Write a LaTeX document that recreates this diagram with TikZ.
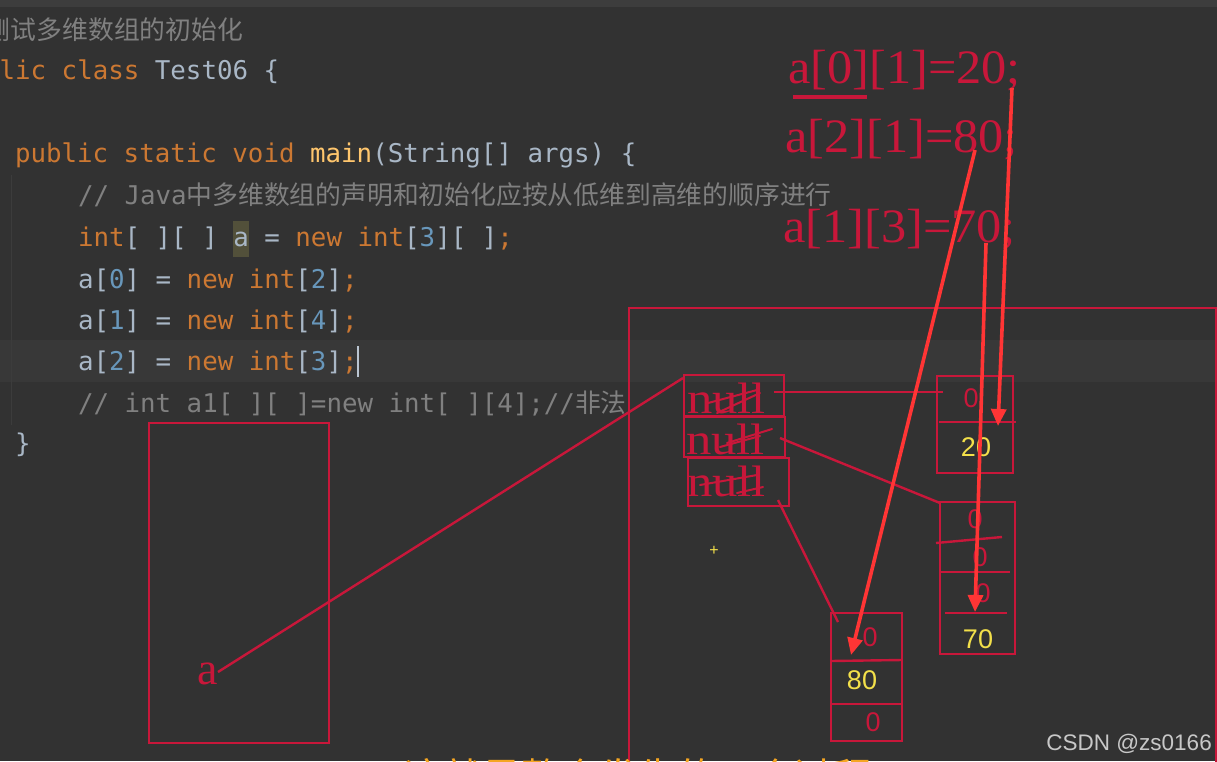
\documentclass[tikz,border=0pt]{standalone}
\usepackage{fontspec}
\usepackage{graphicx}
\setmainfont{Liberation Serif}
\newfontfamily\codefont{DejaVu Sans Mono}
\newfontfamily\cjkfont{Noto Sans CJK SC}
\newfontfamily\sansf{Liberation Sans}
\usetikzlibrary{arrows.meta}
\definecolor{bg}{HTML}{323232}
\definecolor{topbar}{HTML}{3D3D3D}
\definecolor{curline}{HTML}{383838}
\definecolor{guide}{HTML}{3C3C3C}
\definecolor{kw}{HTML}{CC7832}
\definecolor{tx}{HTML}{A9B7C6}
\definecolor{num}{HTML}{6897BB}
\definecolor{cm}{HTML}{808080}
\definecolor{fn}{HTML}{FFC66D}
\definecolor{hlbg}{HTML}{52503A}
\definecolor{pen}{HTML}{C8173A}
\definecolor{arr}{HTML}{FF3535}
\definecolor{hl}{HTML}{F3E04A}
\definecolor{wm}{HTML}{C8C8C8}
\definecolor{sub}{HTML}{F5A623}
\newcommand\kwc[1]{\textcolor{kw}{#1}}
\newcommand\numc[1]{\textcolor{num}{#1}}
\newcommand\fnc[1]{\textcolor{fn}{#1}}
\tikzset{
  code/.style={anchor=base west, inner sep=0pt, outer sep=0pt, text=tx,
    font=\codefont\fontsize{25.8}{30}\selectfont},
  penline/.style={draw=pen, line width=2.4pt},
  scrib/.style={draw=pen, line width=2pt, line cap=round},
  formula/.style={anchor=base west, inner sep=0pt, text=pen, font=\fontsize{48}{50}\selectfont},
  nulltext/.style={anchor=base west, inner sep=0pt, text=pen, font=\fontsize{44}{46}\selectfont},
  cellbox/.style={draw=pen, line width=2.4pt, inner sep=0pt, anchor=north west},
  redarrow/.style={draw=arr, line width=3.6pt, -{Triangle[length=17pt,width=15pt]}},
  val/.style={text=pen, font=\sansf\fontsize{27}{28}\selectfont, inner sep=0pt},
  yval/.style={text=hl, font=\sansf\fontsize{27}{28}\selectfont, inner sep=0pt},
}
\begin{document}
\begin{tikzpicture}[x=1pt,y=-1pt]
\useasboundingbox (0,0) rectangle (1217,761);
\begin{scope}
\clip (0,0) rectangle (1217,761);
% background
\fill[bg] (0,0) rectangle (1217,761);
\fill[topbar] (0,0) rectangle (1217,7);
\fill[curline] (0,340) rectangle (1217,382);
\draw[guide, line width=1pt] (11,175) -- (11,425);
\fill[hlbg] (233,221) rectangle (249,257);
\draw[tx!80, line width=1.2pt] (358,346) -- (358,377);

% code
\node[code, text=cm, font=\cjkfont\fontsize{25.8}{30}\selectfont] (l1) at (-15,39) {测试多维数组的初始化};
\node[code] (l2) at (-47,79) {\kwc{public class }Test06 \{};
\node[code] (l3) at (15,162) {\kwc{public static void }\fnc{main}(String[] args) \{};
\node[code, text=cm] (l4) at (78,204) {// Java{\cjkfont 中多维数组的声明和初始化应按从低维到高维的顺序进行}};
\node[code] (l5) at (78,246) {\kwc{int}[ ][ ] a = \kwc{new int}[\numc{3}][ ]\kwc{;}};
\node[code] (l6) at (78,288) {a[\numc{0}] = \kwc{new int}[\numc{2}]\kwc{;}};
\node[code] (l7) at (78,329) {a[\numc{1}] = \kwc{new int}[\numc{4}]\kwc{;}};
\node[code] (l8) at (78,370) {a[\numc{2}] = \kwc{new int}[\numc{3}]\kwc{;}};
\node[code, text=cm] (l9) at (78,412) {// int a1[ ][ ]=new int[ ][4];//{\cjkfont 非法}};
\node[code] (l10) at (15,452) {\}};

% formulas
\node[formula] (f1) at (788,83) {\scalebox{1.05}[1]{a[0][1]=20;}};
\node[formula] (f2) at (785,152) {\scalebox{1.05}[1]{a[2][1]=80;}};
\node[formula] (f3) at (783,242) {\scalebox{1.05}[1]{a[1][3]=70;}};
\coordinate (u1) at (793,97);
\coordinate (u2) at (867,97);
\draw[pen, line width=4pt] (u1) -- (u2);

% stack box with a
\node[cellbox, minimum width=180pt, minimum height=320pt] (stack) at (148,422) {};
\node[anchor=base, inner sep=0pt, text=pen, font=\fontsize{46}{48}\selectfont] (avar) at (208,684) {a};

% heap
\node[cellbox, minimum width=587pt, minimum height=470pt] (heap) at (628,307) {};

% null boxes
\node[cellbox, minimum width=100pt, minimum height=41pt] (n1) at (683,374) {};
\node[cellbox, minimum width=101pt, minimum height=40pt] (n2) at (683,416) {};
\node[cellbox, minimum width=101pt, minimum height=48pt] (n3) at (687,457) {};
\node[nulltext] (t1) at (687,413) {\scalebox{1.15}[1]{null}};
\node[nulltext] (t2) at (686,454) {\scalebox{1.15}[1]{null}};
\node[nulltext] (t3) at (687,496) {\scalebox{1.15}[1]{null}};
\draw[scrib] (708,403) -- (757,390);
\draw[scrib] (717,413) -- (760,393);
\draw[scrib] (727,443) -- (772,429);
\draw[scrib] (720,447) -- (760,436);
\draw[scrib] (700,485) -- (757,475);
\draw[scrib] (737,493) -- (763,487);

% arrays
\node[cellbox, minimum width=76pt, minimum height=97pt] (arr0) at (936,375) {};
\draw[penline] (939,422) -- (1016,422);
\node[cellbox, minimum width=75pt, minimum height=152pt] (arr1) at (939,501) {};
\draw[penline] (936,543) -- (1002,537);
\draw[penline] (939,572) -- (1010,572);
\draw[penline] (945,613) -- (1007,613);
\node[cellbox, minimum width=71pt, minimum height=128pt] (arr2) at (830,612) {};
\draw[penline] (830,661) -- (902,660);
\draw[penline] (830,704) -- (901,704);

% values
\node[val] (v00) at (971,398) {0};
\node[val] (v10) at (975,519) {0};
\node[val] (v11) at (980,557) {0};
\node[val] (v12) at (983,593) {0};
\node[val] (v20) at (870,637) {0};
\node[val] (v22) at (873,722) {0};
\node[yval] (y20) at (976,447) {20};
\node[yval] (y70) at (978,639) {70};
\node[yval] (y80) at (862,680) {80};

% cursor cross
\node[text=hl, inner sep=0pt, font=\sansf\fontsize{16}{16}\selectfont] (cross) at (714,551) {+};

% connectors
\coordinate (aout) at (218,672);
\coordinate (n1in) at (683,378);
\draw[penline] (aout) -- (n1in);
\coordinate (n1out) at (774,392);
\coordinate (a0in) at (943,392);
\draw[penline] (n1out) -- (a0in);
\coordinate (n2out) at (780,438);
\coordinate (a1in) at (940,503);
\draw[penline] (n2out) -- (a1in);
\coordinate (n3out) at (778,500);
\coordinate (a2in) at (838,622);
\draw[penline] (n3out) -- (a2in);

% red arrows
\coordinate (s20) at (1012,88);
\coordinate (e20) at (998,426);
\draw[redarrow] (s20) -- (e20);
\coordinate (s70) at (986,243);
\coordinate (e70) at (975,612);
\draw[redarrow] (s70) -- (e70);
\coordinate (s80) at (975,150);
\coordinate (e80) at (851,655);
\draw[redarrow] (s80) -- (e80);

% watermark and subtitle
\node[anchor=base east, inner sep=0pt, text=wm, font=\sansf\fontsize{22.5}{24}\selectfont] (wmk) at (1212,750) {CSDN @zs0166};
\node[anchor=base west, inner sep=0pt, text=sub, font=\cjkfont\fontsize{39}{40}\selectfont] (subt) at (404,791) {这就是整个发生的一个过程};
\end{scope}
\end{tikzpicture}
\end{document}
